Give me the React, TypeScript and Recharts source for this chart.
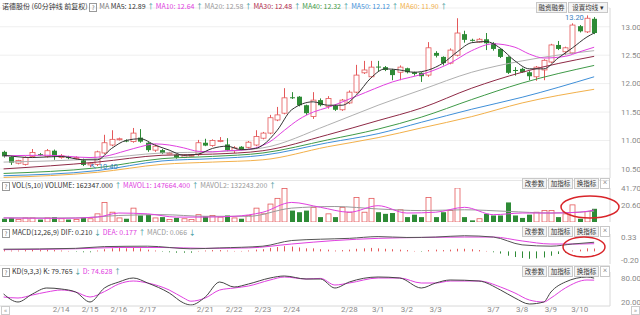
import React from 'react'
import { ComposedChart, Bar, Line, XAxis, YAxis, CartesianGrid } from 'recharts'

// 60-minute bars, 2/10 (partial) .. 3/10
const OPEN = [
  10.80, 10.71, 10.60, 10.58, 10.72, 10.76, 10.72, 10.82, 10.70, 10.71, 10.70, 10.65, 10.57, 10.58, 10.78, 10.92,
  11.02, 11.00, 10.98, 11.05, 10.96, 10.83, 10.83, 10.78, 10.75, 10.70, 10.74, 10.75, 10.96, 10.91, 11.00, 10.93,
  10.82, 10.89, 10.88, 10.92, 11.04, 11.13, 11.36, 11.48, 11.76, 11.77, 11.62, 11.42, 11.71, 11.60, 11.61, 11.54,
  11.66, 11.85, 12.19, 12.12, 12.30, 12.29, 12.24, 12.20, 12.27, 12.20, 12.19, 12.15, 12.54, 12.47, 12.36, 12.50,
  12.87, 12.77, 12.73, 12.78, 12.71, 12.61, 12.47, 12.24, 12.26, 12.20, 12.12, 12.24, 12.38, 12.68, 12.56, 12.54,
  13.01, 12.91, 13.14,
]
const CLOSE = [
  10.72, 10.61, 10.65, 10.70, 10.79, 10.75, 10.82, 10.72, 10.73, 10.69, 10.70, 10.57, 10.60, 10.80, 10.96, 11.02,
  11.03, 10.99, 11.13, 10.98, 10.83, 10.90, 10.78, 10.78, 10.70, 10.73, 10.74, 10.96, 10.91, 11.00, 11.00, 10.83,
  10.87, 10.85, 10.97, 11.07, 11.13, 11.40, 11.45, 11.75, 11.75, 11.62, 11.48, 11.71, 11.62, 11.74, 11.54, 11.71,
  11.85, 12.15, 12.24, 12.29, 12.29, 12.24, 12.15, 12.29, 12.20, 12.17, 12.13, 12.63, 12.49, 12.36, 12.59, 12.89,
  12.77, 12.76, 12.78, 12.71, 12.61, 12.47, 12.19, 12.23, 12.20, 12.13, 12.29, 12.41, 12.68, 12.61, 12.63, 13.03,
  12.92, 13.15, 12.89,
]
const HIGH = [
  10.82, 10.72, 10.66, 10.72, 10.85, 10.78, 10.85, 10.84, 10.76, 10.73, 10.72, 10.68, 10.62, 10.82, 11.10, 11.18,
  11.05, 11.02, 11.22, 11.20, 10.97, 10.93, 10.85, 10.80, 10.76, 10.75, 10.76, 11.01, 11.03, 11.02, 11.06, 11.04,
  10.90, 10.90, 10.99, 11.18, 11.15, 11.45, 11.59, 11.92, 11.85, 11.78, 11.63, 11.85, 11.74, 11.78, 11.63, 11.73,
  11.88, 12.33, 12.40, 12.40, 12.40, 12.31, 12.26, 12.32, 12.28, 12.21, 12.20, 12.73, 12.57, 12.48, 12.62, 13.15,
  12.93, 12.79, 12.80, 12.89, 12.73, 12.62, 12.48, 12.29, 12.28, 12.22, 12.31, 12.43, 12.70, 12.75, 12.65, 13.06,
  13.03, 13.20, 13.17,
]
const LOW = [
  10.70, 10.57, 10.58, 10.56, 10.70, 10.73, 10.70, 10.66, 10.68, 10.67, 10.67, 10.55, 10.53, 10.55, 10.76, 10.90,
  11.00, 10.97, 10.96, 10.96, 10.80, 10.80, 10.76, 10.76, 10.68, 10.69, 10.72, 10.73, 10.90, 10.89, 10.97, 10.81,
  10.78, 10.83, 10.86, 10.90, 11.02, 11.11, 11.34, 11.46, 11.73, 11.60, 11.45, 11.38, 11.60, 11.56, 11.52, 11.52,
  11.64, 11.83, 12.17, 12.10, 12.22, 12.22, 12.06, 12.06, 12.18, 12.14, 12.03, 12.12, 12.46, 12.32, 12.34, 12.48,
  12.72, 12.74, 12.72, 12.59, 12.58, 12.45, 12.17, 12.14, 12.19, 12.06, 12.05, 12.06, 12.36, 12.59, 12.50, 12.52,
  12.90, 12.89, 12.87,
]
// volume in 10k shares
const VOLUME = [
  4, 5, 3, 5, 5, 3, 5, 6, 4, 3, 3, 5, 4, 10, 24, 12,
  5, 4, 17, 8, 9, 5, 6, 3, 5, 4, 3, 9, 7, 8, 6, 8,
  5, 4, 8, 17, 10, 22, 29, 41, 14, 12, 14, 18, 6, 10, 6, 18,
  12, 30, 12, 29, 12, 10, 11, 15, 6, 9, 6, 30, 6, 12, 14, 41.7,
  6, 2, 4, 10, 8, 8, 24, 8, 5, 9, 12, 14, 14, 6, 10, 21,
  4, 13, 16.2,
]
const MACD_BAR = [
  0.03, 0.02, 0.02, 0.03, 0.04, 0.03, 0.04, 0.03, 0.02, 0.01, -0.01, -0.02, -0.02, 0.02, 0.05, 0.07,
  0.08, 0.07, 0.08, 0.07, 0.04, 0.02, -0.01, -0.02, -0.03, -0.03, -0.03, 0.01, 0.02, 0.03, 0.03, 0.02,
  0.01, 0.01, 0.02, 0.04, 0.05, 0.08, 0.1, 0.12, 0.11, 0.09, 0.07, 0.07, 0.05, 0.04, 0.02, 0.03,
  0.04, 0.06, 0.07, 0.08, 0.07, 0.06, 0.05, 0.04, 0.03, 0.01, -0.01, 0.03, 0.04, 0.03, 0.04, 0.06,
  0.06, 0.05, 0.03, 0.01, -0.02, -0.05, -0.1, -0.13, -0.15, -0.17, -0.16, -0.14, -0.1, -0.06, -0.03, 0.02,
  0.04, 0.07, 0.066,
]

// moving averages at sparse bars: [bar, value]
const MA5: [number, number][] = [
  [0, 10.74], [4, 10.70], [8, 10.72], [11, 10.66], [13, 10.66], [15, 10.86], [17, 11.0], [19, 11.03], [21, 10.92],
  [23, 10.83], [25, 10.74], [27, 10.76], [29, 10.86], [31, 10.9], [33, 10.84], [35, 10.86], [36, 10.92], [38, 11.18],
  [40, 11.54], [43, 11.68], [45, 11.62], [47, 11.62], [49, 11.8], [51, 12.1], [53, 12.26], [55, 12.24], [57, 12.2],
  [59, 12.24], [61, 12.36], [63, 12.56], [65, 12.72], [67, 12.74], [69, 12.62], [71, 12.4], [73, 12.26], [75, 12.26],
  [77, 12.45], [79, 12.63], [81, 12.82], [82, 12.89],
]
const MA10: [number, number][] = [
  [0, 10.73], [6, 10.74], [12, 10.7], [14, 10.72], [17, 10.82], [19, 10.89], [21, 10.94], [23, 10.92], [25, 10.87],
  [27, 10.81], [29, 10.8], [31, 10.82], [33, 10.83], [35, 10.87], [37, 10.98], [39, 11.18], [41, 11.37], [43, 11.5],
  [45, 11.58], [49, 11.78], [54, 12.03], [59, 12.2], [62, 12.36], [65, 12.58], [68, 12.7], [71, 12.64], [73, 12.52],
  [75, 12.45], [78, 12.48], [80, 12.56], [82, 12.64],
]
const MA20: [number, number][] = [
  [0, 10.62], [13, 10.68], [22, 10.78], [29, 10.8], [36, 10.87], [45, 11.27], [52, 11.62], [58, 11.89], [65, 12.2],
  [72, 12.4], [82, 12.58],
]
const MA30: [number, number][] = [
  [0, 10.5], [13, 10.62], [22, 10.74], [29, 10.76], [36, 10.82], [45, 11.1], [52, 11.35], [58, 11.57], [65, 11.92],
  [72, 12.2], [82, 12.48],
]
const MA40: [number, number][] = [
  [0, 10.42], [13, 10.52], [22, 10.68], [29, 10.72], [36, 10.78], [45, 11.01], [52, 11.2], [58, 11.41], [65, 11.72],
  [72, 12.01], [82, 12.32],
]
const MA50: [number, number][] = [
  [0, 10.38], [13, 10.47], [22, 10.64], [29, 10.68], [36, 10.74], [45, 10.96], [52, 11.12], [58, 11.32], [65, 11.55],
  [72, 11.76], [82, 12.12],
]
const MA60: [number, number][] = [
  [0, 10.35], [13, 10.44], [22, 10.58], [29, 10.62], [36, 10.66], [45, 10.89], [52, 11.05], [58, 11.22], [65, 11.42],
  [72, 11.66], [82, 11.9],
]
const MAVOL1: [number, number][] = [
  [0, 5], [8, 4.5], [13, 6], [16, 11], [20, 10], [24, 6], [28, 6], [32, 7], [36, 12], [40, 24], [44, 18], [48, 12],
  [52, 20], [56, 11], [60, 12], [64, 18], [68, 9], [72, 11], [76, 11], [80, 12], [82, 14.8],
]
const MAVOL2: [number, number][] = [
  [0, 5], [10, 5], [16, 8], [22, 9], [28, 7], [34, 7], [40, 17], [46, 19], [52, 16], [58, 14], [64, 15], [70, 13],
  [76, 11], [82, 13.2],
]
const DIF: [number, number][] = [
  [0, 0.05], [10, 0.07], [14, 0.11], [20, 0.12], [26, 0.06], [30, 0.08], [36, 0.12], [40, 0.25], [44, 0.28],
  [48, 0.3], [52, 0.34], [56, 0.32], [60, 0.33], [64, 0.36], [68, 0.33], [72, 0.15], [76, 0.12], [79, 0.17],
  [82, 0.21],
]
const DEA: [number, number][] = [
  [0, 0.04], [10, 0.06], [16, 0.09], [22, 0.09], [28, 0.07], [34, 0.08], [40, 0.17], [46, 0.25], [52, 0.3],
  [58, 0.32], [64, 0.33], [68, 0.33], [72, 0.24], [76, 0.17], [80, 0.17], [82, 0.177],
]
const K: [number, number][] = [
  [0, 40], [2, 20], [4, 40], [6, 55], [8, 52.5], [10, 45], [12, 20], [14, 55], [16, 70], [18, 80], [20, 67.5],
  [23, 42.5], [25, 17.5], [26, 12.5], [28, 32.5], [30, 70], [32, 57.5], [34, 65], [37, 80], [39, 85], [42, 77.5],
  [44, 77.5], [46, 55], [48, 70], [52, 82.5], [55, 80], [58, 55], [60, 67.5], [62, 75], [66, 72.5], [69, 50],
  [71, 30], [73, 15], [75, 20], [76, 45], [78, 70], [81, 82.5], [82, 79.765],
]
const D: [number, number][] = [
  [0, 32.5], [2, 30], [4, 37.5], [6, 45], [8, 50], [10, 45], [12, 32.5], [14, 46], [16, 65], [18, 72.5], [20, 67.5],
  [23, 50], [25, 30], [26, 22], [28, 30], [30, 50], [32, 55], [34, 60], [37, 75], [39, 82.5], [42, 77.5], [44, 79],
  [46, 62.5], [48, 67.5], [52, 80], [55, 80], [58, 67.5], [60, 67.5], [62, 72.5], [66, 72.5], [69, 57.5], [71, 42.5],
  [73, 25], [75, 20], [76, 30], [78, 55], [81, 75], [82, 74.628],
]

const DATE_LABELS = ['2/14', '2/15', '2/16', '2/17', '2/21', '2/22', '2/23', '2/24', '2/28', '3/1', '3/2', '3/3', '3/7', '3/8', '3/9', '3/10']
const DATE_BARS = [8, 12, 16, 20, 28, 32, 36, 40, 48, 52, 56, 60, 68, 72, 76, 80]

const X_DOMAIN: [number, number] = [-0.5, 84.2]
const RED = '#e4585a'
const GREEN = '#2e8b36'
const CJK = '"Noto Sans CJK SC", "Noto Sans", sans-serif'

const pick = (pairs: [number, number][], i: number) => {
  const hit = pairs.find((p) => p[0] === i)
  return hit ? hit[1] : null
}

const rows = CLOSE.map((c, i) => ({
  i,
  o: OPEN[i],
  c,
  h: HIGH[i],
  l: LOW[i],
  range: [LOW[i], HIGH[i]],
  vol: VOLUME[i],
  macd: MACD_BAR[i],
  ma5: pick(MA5, i),
  ma10: pick(MA10, i),
  ma20: pick(MA20, i),
  ma30: pick(MA30, i),
  ma40: pick(MA40, i),
  ma50: pick(MA50, i),
  ma60: pick(MA60, i),
  mavol1: pick(MAVOL1, i),
  mavol2: pick(MAVOL2, i),
  dif: pick(DIF, i),
  dea: pick(DEA, i),
  k: pick(K, i),
  d: pick(D, i),
}))

const Candle = (props: any) => {
  const { x, y, width, height, payload } = props
  const { o, c, h, l } = payload
  const up = c >= o
  const color = up ? RED : GREEN
  const top = Math.min(y, y + height)
  const hpx = Math.abs(height)
  const ppu = hpx / Math.max(h - l, 0.0001)
  const yOf = (v: number) => top + (h - v) * ppu
  const bTop = yOf(Math.max(o, c))
  const bH = Math.max(yOf(Math.min(o, c)) - bTop, 1)
  const cx = Math.round(x + width / 2) + 0.5
  return (
    <g>
      <line x1={cx} x2={cx} y1={top} y2={top + hpx} stroke={color} strokeWidth={1} />
      <rect x={cx - 2.5} y={bTop} width={5} height={bH} fill={up ? '#fff' : color} stroke={color} strokeWidth={up ? 0.8 : 0} />
    </g>
  )
}

const VolBar = (props: any) => {
  const { x, y, width, height, payload } = props
  const up = payload.c >= payload.o
  const color = up ? RED : GREEN
  const top = Math.min(y, y + height)
  const cx = Math.round(x + width / 2) + 0.5
  return <rect x={cx - 2.5} y={top} width={5} height={Math.abs(height)} fill={up ? '#fff' : color} stroke={color} strokeWidth={up ? 0.8 : 0} />
}

const MacdBar = (props: any) => {
  const { x, y, width, height, payload } = props
  const color = payload.macd >= 0 ? RED : GREEN
  const top = Math.min(y, y + height)
  const cx = Math.round(x + width / 2) + 0.5
  return <line x1={cx} x2={cx} y1={top} y2={top + Math.abs(height)} stroke={color} strokeWidth={1} />
}

const tickStyle = { fontSize: 8, fill: '#8a8a8a', fontFamily: 'Roboto, sans-serif' }

const Btn = ({ left, top, w, children }: { left: number; top: number; w: number; children: React.ReactNode }) => (
  <div
    style={{
      position: 'absolute', left, top, width: w, height: 9, border: '1px solid #c8c8c8', background: '#f4f4f4',
      fontSize: 6.5, lineHeight: '9px', textAlign: 'center', color: '#333', fontFamily: CJK, whiteSpace: 'nowrap',
      overflow: 'hidden',
    }}
  >
    {children}
  </div>
)

const ToolBtns = ({ top }: { top: number }) => (
  <>
    <Btn left={522} top={top} w={23}>改参数</Btn>
    <Btn left={548} top={top} w={23}>加指标</Btn>
    <Btn left={574} top={top} w={23}>换指标</Btn>
    <div style={{ position: 'absolute', left: 600, top, width: 8, height: 9, border: '1px solid #c8c8c8', fontSize: 8, lineHeight: '8px', textAlign: 'center', color: '#666' }}>×</div>
  </>
)

const Up = () => <span style={{ color: '#2a8f8f' }}> ↑</span>
const Dn = () => <span style={{ color: '#2a8f8f' }}> ↓</span>

const Q = () => (
  <span style={{ display: 'inline-block', width: 6, height: 7, border: '1px solid #999', fontSize: 6, lineHeight: '7px', textAlign: 'center', marginRight: 2, color: '#666', verticalAlign: 'middle' }}>?</span>
)

const headerStyle: React.CSSProperties = {
  position: 'absolute', left: 2, fontSize: 7, lineHeight: '10px', whiteSpace: 'nowrap', fontFamily: CJK, color: '#333',
}

const panelAxis = (domain: [number, number], ticks: number[], fmt = (v: number) => v.toFixed(2)) => (
  <YAxis
    orientation="right"
    width={30}
    domain={domain}
    ticks={ticks}
    allowDataOverflow
    axisLine={{ stroke: '#d8d8d8' }}
    tickLine={false}
    tickMargin={5}
    tick={tickStyle}
    tickFormatter={fmt}
  />
)

const hiddenX = <XAxis dataKey="i" type="number" domain={X_DOMAIN} hide allowDataOverflow />

export default function App() {
  return (
    <div style={{ position: 'absolute', left: 0, top: 0, width: 640, height: 315, background: '#fff', overflow: 'hidden' }}>
      {/* price */}
      <div style={{ position: 'absolute', left: 0, top: 0 }}>
        <ComposedChart width={640} height={190} data={rows} margin={{ top: 8, right: 0, bottom: 12, left: 0 }}>
          <CartesianGrid horizontal vertical={false} stroke="#efefef" />
          {hiddenX}
          {panelAxis([10.34, 13.33], [10.5, 11, 11.5, 12, 12.5, 13])}
          <Line dataKey="ma60" stroke="#f2b04a" dot={false} strokeWidth={1} type="monotone" connectNulls isAnimationActive={false} />
          <Line dataKey="ma50" stroke="#3f8fd8" dot={false} strokeWidth={1} type="monotone" connectNulls isAnimationActive={false} />
          <Line dataKey="ma40" stroke="#3f9a48" dot={false} strokeWidth={1} type="monotone" connectNulls isAnimationActive={false} />
          <Line dataKey="ma30" stroke="#8e2a46" dot={false} strokeWidth={1} type="monotone" connectNulls isAnimationActive={false} />
          <Line dataKey="ma20" stroke="#b0b0b0" dot={false} strokeWidth={1} type="monotone" connectNulls isAnimationActive={false} />
          <Line dataKey="ma10" stroke="#e040e0" dot={false} strokeWidth={1} type="monotone" connectNulls isAnimationActive={false} />
          <Line dataKey="ma5" stroke="#333" dot={false} strokeWidth={1} type="monotone" connectNulls isAnimationActive={false} />
          <Bar dataKey="range" shape={<Candle />} barSize={5} isAnimationActive={false} />
        </ComposedChart>
      </div>

      {/* volume */}
      <div style={{ position: 'absolute', left: 0, top: 180 }}>
        <ComposedChart width={640} height={44} data={rows} margin={{ top: 8, right: 0, bottom: 2, left: 0 }}>
          {hiddenX}
          {panelAxis([0, 41.7], [0, 20.6, 41.7])}
          <Bar dataKey="vol" shape={<VolBar />} barSize={5} isAnimationActive={false} />
          <Line dataKey="mavol2" stroke="#999" dot={false} strokeWidth={1} type="monotone" connectNulls isAnimationActive={false} />
          <Line dataKey="mavol1" stroke="#e040e0" dot={false} strokeWidth={1} type="monotone" connectNulls isAnimationActive={false} />
        </ComposedChart>
      </div>

      {/* MACD */}
      <div style={{ position: 'absolute', left: 0, top: 226 }}>
        <ComposedChart width={640} height={40} data={rows} margin={{ top: 8, right: 0, bottom: 2, left: 0 }}>
          {hiddenX}
          {panelAxis([-0.29, 0.4], [-0.2, 0.33])}
          <Bar dataKey="macd" shape={<MacdBar />} barSize={1} isAnimationActive={false} />
          <Line dataKey="dea" stroke="#e040e0" dot={false} strokeWidth={1} type="monotone" connectNulls isAnimationActive={false} />
          <Line dataKey="dif" stroke="#555" dot={false} strokeWidth={1} type="monotone" connectNulls isAnimationActive={false} />
        </ComposedChart>
      </div>

      {/* KD */}
      <div style={{ position: 'absolute', left: 0, top: 265 }}>
        <ComposedChart width={640} height={50} data={rows} margin={{ top: 7, right: 0, bottom: 0, left: 0 }}>
          <XAxis
            dataKey="i"
            type="number"
            domain={X_DOMAIN}
            allowDataOverflow
            ticks={DATE_BARS}
            tickFormatter={(v: number) => DATE_LABELS[DATE_BARS.indexOf(v)] ?? ''}
            height={9}
            axisLine={{ stroke: '#d8d8d8' }}
            tickLine={false}
            tickSize={0}
            tickMargin={0}
            tick={tickStyle}
            interval={0}
          />
          {panelAxis([10, 95], [20, 50, 80])}
          <Line dataKey="d" stroke="#e040e0" dot={false} strokeWidth={1} type="monotone" connectNulls isAnimationActive={false} />
          <Line dataKey="k" stroke="#444" dot={false} strokeWidth={1} type="monotone" connectNulls isAnimationActive={false} />
        </ComposedChart>
      </div>

      {/* separators */}
      {[180, 226, 265].map((t) => (
        <div key={t} style={{ position: 'absolute', left: 0, top: t, width: 610, height: 1, background: '#e6e6e6' }} />
      ))}

      {/* headers */}
      <div style={{ ...headerStyle, top: 1 }}>
        <span>诺德股份 (60分钟线 前复权)</span> <Q />
        <span style={{ color: '#777' }}>MA </span>
        <span> MA5: 12.89</span><Up />
        <span style={{ color: '#e040e0' }}> MA10: 12.64</span><Up />
        <span style={{ color: '#999' }}> MA20: 12.58</span><Up />
        <span style={{ color: '#b02a4a' }}> MA30: 12.48</span><Up />
        <span style={{ color: '#3f9a48' }}> MA40: 12.32</span><Up />
        <span style={{ color: '#3f8fd8' }}> MA50: 12.12</span><Up />
        <span style={{ color: '#f2b04a' }}> MA60: 11.90</span><Up />
      </div>
      <Btn left={536} top={2} w={29}>融资融券</Btn>
      <Btn left={568} top={2} w={38}>设置均线 ▾</Btn>

      <div style={{ ...headerStyle, top: 180 }}>
        <Q />
        <span>VOL(5,10) VOLUME: 162347.000</span><Up />
        <span style={{ color: '#e040e0' }}> MAVOL1: 147664.400</span><Up />
        <span style={{ color: '#999' }}> MAVOL2: 132243.200</span><Up />
      </div>
      <ToolBtns top={178} />

      <div style={{ ...headerStyle, top: 227 }}>
        <Q />
        <span>MACD(12,26,9) DIF: 0.210</span><Dn />
        <span style={{ color: '#e040e0' }}> DEA: 0.177</span><Up />
        <span style={{ color: '#999' }}> MACD: 0.066</span><Dn />
      </div>
      <ToolBtns top={226} />

      <div style={{ ...headerStyle, top: 266 }}>
        <Q />
        <span>KD(9,3,3) K: 79.765</span><Dn />
        <span style={{ color: '#e040e0' }}> D: 74.628</span><Up />
      </div>
      <ToolBtns top={266} />

      {/* extreme markers */}
      <div style={{ position: 'absolute', left: 565, top: 13, fontSize: 7.5, color: '#3a7fc0', fontFamily: 'Roboto, sans-serif' }}>13.20</div>
      <div style={{ position: 'absolute', left: 90, top: 162, fontSize: 7.5, color: '#3a7fc0', fontFamily: 'Roboto, sans-serif' }}>↖ 10.40</div>

      {/* pager */}
      <div style={{ position: 'absolute', left: 1, top: 306, width: 7, height: 7, border: '1px solid #ccc', fontSize: 6, lineHeight: '7px', color: '#888', textAlign: 'center' }}>«</div>
      <div style={{ position: 'absolute', left: 631, top: 306, width: 7, height: 7, border: '1px solid #ccc', fontSize: 6, lineHeight: '7px', color: '#888', textAlign: 'center' }}>»</div>

      {/* annotation ellipses */}
      <svg width={640} height={315} style={{ position: 'absolute', left: 0, top: 0, pointerEvents: 'none' }}>
        <ellipse cx={590} cy={207} rx={29} ry={11} fill="none" stroke="#d9252a" strokeWidth={1.5} />
        <ellipse cx={584} cy={247} rx={21} ry={10} fill="none" stroke="#d9252a" strokeWidth={1.5} />
      </svg>
    </div>
  )
}
